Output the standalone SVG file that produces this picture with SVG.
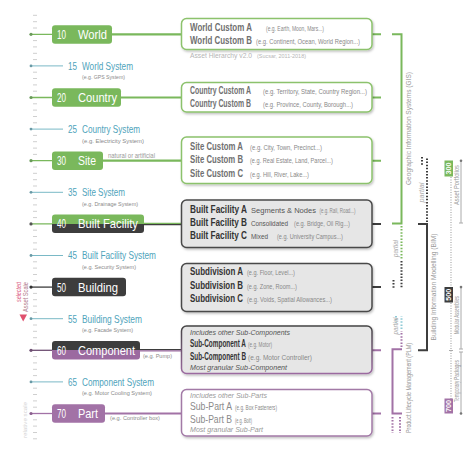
<svg xmlns="http://www.w3.org/2000/svg" width="474" height="451" viewBox="0 0 474 451">
<defs>
<style>
text{font-family:"Liberation Sans",Arial,sans-serif}
.lvl{font-size:12.5px;fill:#fff}
.sys{font-size:11px;fill:#4ea3bb}
.eg{font-size:6.5px;fill:#888;font-weight:normal;font-style:normal}
.sub{font-size:6px;fill:#8a8a8a}
.bx{font-size:11px;fill:#707070;font-weight:bold}
.bxd{font-size:11px;fill:#333;font-weight:bold}
.mid{font-size:8px;fill:#555;font-weight:normal}
.bxp{font-size:11px;fill:#8a8a8a}
.it{font-size:7.5px;font-style:italic;fill:#555}
.itp{font-size:7.5px;font-style:italic;fill:#999}
.vlab{font-size:7.5px;fill:#9a9a9a}
.part{font-size:6.5px;font-style:italic;fill:#aaa}
.rl{font-size:6.5px;fill:#999}
.num{font-size:7px;fill:#fff;font-weight:bold}
.rbox{stroke-width:1.5;filter:url(#sh)}
.gl{stroke:#7ab85c}
.dk{stroke:#3d3d3d}
.pu{stroke:#a272a6}
.te{stroke:#7ab9c6;stroke-width:1}
</style>
<filter id="sh" x="-5%" y="-10%" width="112%" height="130%">
<feDropShadow dx="1" dy="1.5" stdDeviation="1" flood-color="#000" flood-opacity="0.25"/>
</filter>
<linearGradient id="gd" x1="0" y1="0" x2="0" y2="1">
<stop offset="0.5" stop-color="#7ab85c"/><stop offset="0.5" stop-color="#3d3d3d"/>
</linearGradient>
<linearGradient id="dp" x1="0" y1="0" x2="0" y2="1">
<stop offset="0.5" stop-color="#3d3d3d"/><stop offset="0.5" stop-color="#9b6aa0"/>
</linearGradient>
<linearGradient id="dps" x1="0" y1="0" x2="0" y2="1">
<stop offset="0" stop-color="#444"/><stop offset="1" stop-color="#9b6aa0"/>
</linearGradient>
<linearGradient id="bl" x1="0" y1="0" x2="1" y2="0">
<stop offset="0" stop-color="#777"/><stop offset="1" stop-color="#333"/>
</linearGradient>
</defs>
<rect width="474" height="451" fill="#fff"/>

<g id="scale">
<path stroke="#cfcfcf" stroke-width="1" d="M33 15.3h4M33 21.7h4M33 28h4M33 40.6h4M33 46.9h4M33 53.3h4M33 59.6h4M33 72.2h4M33 78.5h4M33 84.9h4M33 91.2h4M33 103.8h4M33 110.1h4M33 116.5h4M33 122.8h4M33 135.4h4M33 141.7h4M33 148.1h4M33 154.4h4M33 167h4M33 173.3h4M33 179.7h4M33 186h4M33 198.6h4M33 204.9h4M33 211.3h4M33 217.6h4M33 230.2h4M33 236.5h4M33 242.9h4M33 249.2h4M33 261.8h4M33 268.1h4M33 274.5h4M33 280.8h4M33 293.4h4M33 299.7h4M33 306.1h4M33 312.4h4M33 325h4M33 331.3h4M33 337.7h4M33 344h4M33 356.6h4M33 362.9h4M33 369.3h4M33 375.6h4M33 388.2h4M33 394.5h4M33 400.9h4M33 407.2h4M33 419.8h4M33 426.1h4M33 432.5h4M33 438.8h4"/>
<text class="rl" transform="translate(27,420) rotate(-90)" text-anchor="middle" style="fill:#d4d4d4;font-size:6px" textLength="36" lengthAdjust="spacingAndGlyphs">relative scale</text>
<text transform="translate(20.5,302) rotate(-90)" style="font-size:6.5px;font-style:italic;fill:#d9557a" textLength="20" lengthAdjust="spacingAndGlyphs">selected</text>
<text transform="translate(28,312) rotate(-90)" style="font-size:6.5px;fill:#b07a8a" textLength="30" lengthAdjust="spacingAndGlyphs">Asset Scale</text>
<path d="M19.5 314.5 L27 314.5 L23.2 321.5 Z" fill="#e0506e"/>
</g>

<g id="connectors" fill="none">
<path class="te" d="M31 65.9H63M31 129.1H63M31 192.3H63M31 255.5H63M31 318.7H63M31 381.9H63"/>
<g fill="#6a9aa6">
<circle cx="31" cy="65.9" r="1.4"/><circle cx="31" cy="129.1" r="1.4"/><circle cx="31" cy="192.3" r="1.4"/><circle cx="31" cy="255.5" r="1.4"/><circle cx="31" cy="318.7" r="1.4"/><circle cx="31" cy="381.9" r="1.4"/>
</g>
<path class="gl" stroke-width="1.3" d="M31 34.3H52M31 97.5H52M31 160.7H52M31 223.9H52"/>
<path class="dk" stroke-width="1.3" d="M31 287.1H52"/>
<path stroke="#6e4f72" stroke-width="1.3" d="M31 350.3H52"/>
<path class="pu" stroke-width="1.3" d="M31 413.5H52"/>
<g>
<circle cx="31" cy="34.3" r="1.6" fill="#6a9a5a"/><circle cx="31" cy="97.5" r="1.6" fill="#6a9a5a"/><circle cx="31" cy="160.7" r="1.6" fill="#6a9a5a"/><circle cx="31" cy="223.9" r="1.6" fill="#555"/><circle cx="31" cy="287.1" r="1.6" fill="#333"/><circle cx="31" cy="350.3" r="1.6" fill="#6e4f72"/><circle cx="31" cy="413.5" r="1.6" fill="#8a5f8e"/>
</g>
<path class="gl" stroke-width="2.2" d="M112 34.3H182M121 97.5H182M103 160.7H182"/>
<path class="gl" stroke-width="1.3" d="M144 223.3H182"/>
<path class="dk" stroke-width="1.3" d="M144 224.6H182"/>
<path stroke="url(#bl)" stroke-width="2.2" d="M126 287.1H182"/>
<path class="dk" stroke-width="1.2" d="M140 349.7H182"/>
<path stroke="#9b6aa0" stroke-width="1.2" d="M140 350.9H182"/>
<path class="pu" stroke-width="2.2" d="M105 413.5H182"/>
<path class="gl" stroke-width="2" d="M372 34.3H381M372 97.5H381M372 160.7H381"/>
<path class="dk" stroke-width="2" d="M372 223.9H381M372 287.1H381"/>
<path class="pu" stroke-width="2" d="M372 350.3H381M372 413.5H381"/>
<path class="gl" stroke-width="2" d="M392 34.3H401.5V223.4H392"/>
<path class="dk" stroke-width="2" d="M418 223.9H427V350.3H418"/>
<path class="pu" stroke-width="2" d="M402 349.3H392.5V413.5H402"/>
<path class="gl" stroke-width="2" stroke-dasharray="1.5 1.6" d="M401.5 226V259"/>
<path class="dk" stroke-width="2" stroke-dasharray="1.5 1.6" d="M401.5 261V288M393.5 280V288"/>
<path class="dk" stroke-width="2" stroke-dasharray="1.5 1.6" d="M427 222V157M422 157V166"/>
<path class="pu" stroke-width="2" stroke-dasharray="1.5 1.6" d="M401.5 347V331"/>
<path stroke="#8fcad6" stroke-width="2" stroke-dasharray="1.5 1.6" d="M401.5 329V316M396 316V323"/>
<path class="pu" stroke-width="2" stroke-dasharray="1.5 1.6" d="M392.5 417V433M400 417V433"/>
<path stroke="#aaa" stroke-width="1.2" stroke-dasharray="1 1.5" d="M451 177V287M451 303V399"/>
<path stroke="#aaa" stroke-width="1" d="M461 160.7V223M461 287.1V349M461 352V413.5M459 349H463M459 352H463M449 350.5H453M459 223H463"/>
<g fill="#777"><circle cx="461" cy="160.7" r="1.3"/><circle cx="461" cy="287.1" r="1.3"/><circle cx="461" cy="413.5" r="1.3"/></g>
</g>

<g id="labels-right">
<text class="vlab" transform="translate(411,128.5) rotate(-90)" text-anchor="middle" textLength="113" lengthAdjust="spacingAndGlyphs">Geographic Information Systems (GIS)</text>
<text class="vlab" transform="translate(436,287) rotate(-90)" text-anchor="middle" textLength="107" lengthAdjust="spacingAndGlyphs">Building Information Modelling (BIM)</text>
<text class="vlab" transform="translate(411,388) rotate(-90)" text-anchor="middle" textLength="90" lengthAdjust="spacingAndGlyphs">Product Lifecycle Management (PLM)</text>
<text class="part" transform="translate(398,248.5) rotate(-90)" text-anchor="middle" textLength="17" lengthAdjust="spacingAndGlyphs">partial</text>
<text class="part" transform="translate(424,192.5) rotate(-90)" text-anchor="middle" textLength="20" lengthAdjust="spacingAndGlyphs">partial</text>
<text class="part" transform="translate(398,326) rotate(-90)" text-anchor="middle" textLength="17" lengthAdjust="spacingAndGlyphs">partial</text>
<text class="rl" transform="translate(459,185) rotate(-90)" text-anchor="middle" textLength="40" lengthAdjust="spacingAndGlyphs">Asset Portfolios</text>
<text class="rl" transform="translate(459,315) rotate(-90)" text-anchor="middle" textLength="38" lengthAdjust="spacingAndGlyphs">Modular Assemblies</text>
<text class="rl" transform="translate(459,381) rotate(-90)" text-anchor="middle" textLength="42" lengthAdjust="spacingAndGlyphs">Temporary Packages</text>
<g id="n300"><rect x="444.5" y="160.5" width="8.5" height="16" fill="#7ab85c"/><text class="num" transform="translate(451.3,168.5) rotate(-90)" text-anchor="middle" textLength="12" lengthAdjust="spacingAndGlyphs">300</text></g>
<g id="n500"><rect x="444.5" y="287" width="8.5" height="15.5" fill="#3d3d3d"/><text class="num" transform="translate(451.3,294.8) rotate(-90)" text-anchor="middle" textLength="12" lengthAdjust="spacingAndGlyphs">500</text></g>
<g id="n700"><rect x="444.5" y="398.5" width="8.5" height="15" fill="#a272a6"/><text class="num" transform="translate(451.3,406) rotate(-90)" text-anchor="middle" textLength="12" lengthAdjust="spacingAndGlyphs">700</text></g>
</g>

<g id="lvl10"><rect x="52" y="25.3" width="60" height="18.5" rx="3" fill="#7ab85c"/><g transform="translate(57,0) scale(0.8,1)"><text class="lvl" y="39"><tspan x="0" textLength="11.25" lengthAdjust="spacingAndGlyphs">10</tspan><tspan x="26.25" textLength="36.25" lengthAdjust="spacingAndGlyphs">World</tspan></text></g></g>
<g id="lvl15"><g transform="translate(68,0) scale(0.8,1)"><text class="sys" y="70"><tspan x="0" textLength="11.25" lengthAdjust="spacingAndGlyphs">15</tspan><tspan x="17.5" textLength="63.75" lengthAdjust="spacingAndGlyphs">World System</tspan></text><text class="sub" x="17.5" y="79.5" textLength="53.75" lengthAdjust="spacingAndGlyphs">(e.g. GPS System)</text></g></g>
<g id="lvl20"><rect x="52" y="88.3" width="69" height="18.5" rx="3" fill="#7ab85c"/><g transform="translate(57,0) scale(0.8,1)"><text class="lvl" y="102"><tspan x="0" textLength="11.25" lengthAdjust="spacingAndGlyphs">20</tspan><tspan x="26.25" textLength="48.75" lengthAdjust="spacingAndGlyphs">Country</tspan></text></g></g>
<g id="lvl25"><g transform="translate(68,0) scale(0.8,1)"><text class="sys" y="133.1"><tspan x="0" textLength="11.25" lengthAdjust="spacingAndGlyphs">25</tspan><tspan x="17.5" textLength="72.5" lengthAdjust="spacingAndGlyphs">Country System</tspan></text><text class="sub" x="17.5" y="142.6" textLength="77.5" lengthAdjust="spacingAndGlyphs">(e.g. Electricity System)</text></g></g>
<g id="lvl30"><rect x="52" y="151.5" width="51" height="18.5" rx="3" fill="#7ab85c"/><g transform="translate(57,0) scale(0.8,1)"><text class="lvl" y="165.2"><tspan x="0" textLength="11.25" lengthAdjust="spacingAndGlyphs">30</tspan><tspan x="26.25" textLength="22.5" lengthAdjust="spacingAndGlyphs">Site</tspan></text></g><text class="eg" x="108" y="157.8" style="fill:#999" textLength="47" lengthAdjust="spacingAndGlyphs">natural or artificial</text></g>
<g id="lvl35"><g transform="translate(68,0) scale(0.8,1)"><text class="sys" y="196.3"><tspan x="0" textLength="11.25" lengthAdjust="spacingAndGlyphs">35</tspan><tspan x="17.5" textLength="53.75" lengthAdjust="spacingAndGlyphs">Site System</tspan></text><text class="sub" x="17.5" y="205.8" textLength="70" lengthAdjust="spacingAndGlyphs">(e.g. Drainage System)</text></g></g>
<g id="lvl40"><rect x="52" y="214.6" width="92" height="18.5" rx="3" fill="url(#gd)"/><g transform="translate(57,0) scale(0.8,1)"><text class="lvl" y="228.4"><tspan x="0" textLength="11.25" lengthAdjust="spacingAndGlyphs">40</tspan><tspan x="26.25" textLength="75" lengthAdjust="spacingAndGlyphs">Built Facility</tspan></text></g></g>
<g id="lvl45"><g transform="translate(68,0) scale(0.8,1)"><text class="sys" y="259.5"><tspan x="0" textLength="11.25" lengthAdjust="spacingAndGlyphs">45</tspan><tspan x="17.5" textLength="92.5" lengthAdjust="spacingAndGlyphs">Built Facility System</tspan></text><text class="sub" x="17.5" y="269" textLength="67.5" lengthAdjust="spacingAndGlyphs">(e.g. Security System)</text></g></g>
<g id="lvl50"><rect x="52" y="277.8" width="74" height="18.5" rx="3" fill="#3d3d3d"/><g transform="translate(57,0) scale(0.8,1)"><text class="lvl" y="291.6"><tspan x="0" textLength="11.25" lengthAdjust="spacingAndGlyphs">50</tspan><tspan x="26.25" textLength="50" lengthAdjust="spacingAndGlyphs">Building</tspan></text></g></g>
<g id="lvl55"><g transform="translate(68,0) scale(0.8,1)"><text class="sys" y="322.7"><tspan x="0" textLength="11.25" lengthAdjust="spacingAndGlyphs">55</tspan><tspan x="17.5" textLength="75" lengthAdjust="spacingAndGlyphs">Building System</tspan></text><text class="sub" x="17.5" y="332.2" textLength="63.75" lengthAdjust="spacingAndGlyphs">(e.g. Facade System)</text></g></g>
<g id="lvl60"><rect x="52" y="341" width="88" height="18.5" rx="3" fill="url(#dp)"/><g transform="translate(57,0) scale(0.8,1)"><text class="lvl" y="354.8"><tspan x="0" textLength="11.25" lengthAdjust="spacingAndGlyphs">60</tspan><tspan x="26.25" textLength="71.25" lengthAdjust="spacingAndGlyphs">Component</tspan></text></g><text class="sub" x="143" y="357.5" textLength="29" lengthAdjust="spacingAndGlyphs">(e.g. Pump)</text></g>
<g id="lvl65"><g transform="translate(68,0) scale(0.8,1)"><text class="sys" y="385.9"><tspan x="0" textLength="11.25" lengthAdjust="spacingAndGlyphs">65</tspan><tspan x="17.5" textLength="90" lengthAdjust="spacingAndGlyphs">Component System</tspan></text><text class="sub" x="17.5" y="395.4" textLength="87.5" lengthAdjust="spacingAndGlyphs">(e.g. Motor Cooling System)</text></g></g>
<g id="lvl70"><rect x="52" y="404.2" width="53" height="18.5" rx="3" fill="#a272a6"/><g transform="translate(57,0) scale(0.8,1)"><text class="lvl" y="418"><tspan x="0" textLength="11.25" lengthAdjust="spacingAndGlyphs">70</tspan><tspan x="26.25" textLength="25" lengthAdjust="spacingAndGlyphs">Part</tspan></text></g><text class="sub" x="110" y="420" textLength="50" lengthAdjust="spacingAndGlyphs">(e.g. Controller box)</text></g>

<g id="box-world"><rect class="rbox" x="181.5" y="18.5" width="190.5" height="31" rx="5" fill="#fff" stroke="#8cc26c"/>
<g transform="translate(190,0) scale(0.5,1)">
<text class="bx" y="31.5"><tspan x="0" textLength="124" lengthAdjust="spacingAndGlyphs">World Custom A</tspan><tspan class="eg" x="152" textLength="116" lengthAdjust="spacingAndGlyphs">(e.g. Earth, Moon, Mars...)</tspan></text>
<text class="bx" y="44"><tspan x="0" textLength="124" lengthAdjust="spacingAndGlyphs">World Custom B</tspan><tspan class="eg" x="132" textLength="208" lengthAdjust="spacingAndGlyphs">(e.g. Continent, Ocean, World Region...)</tspan></text>
</g></g>
<g id="caption"><g transform="translate(190,0) scale(0.5,1)"><text y="58" style="fill:#b5b5b5"><tspan x="0" style="font-size:7.5px" textLength="124" lengthAdjust="spacingAndGlyphs">Asset Hierarchy v2.0</tspan><tspan x="134" style="font-size:6px" textLength="98" lengthAdjust="spacingAndGlyphs">(Sucsar, 2011-2018)</tspan></text></g></g>
<g id="box-country"><rect class="rbox" x="181.5" y="82.5" width="190.5" height="29.5" rx="5" fill="#fff" stroke="#8cc26c"/>
<g transform="translate(190,0) scale(0.5,1)">
<text class="bx" y="94.5"><tspan x="0" textLength="122" lengthAdjust="spacingAndGlyphs">Country Custom A</tspan><tspan class="eg" x="146" textLength="208" lengthAdjust="spacingAndGlyphs">(e.g. Territory, State, Country Region...)</tspan></text>
<text class="bx" y="107"><tspan x="0" textLength="122" lengthAdjust="spacingAndGlyphs">Country Custom B</tspan><tspan class="eg" x="146" textLength="180" lengthAdjust="spacingAndGlyphs">(e.g. Province, County, Borough...)</tspan></text>
</g></g>
<g id="box-site"><rect class="rbox" x="181.5" y="137" width="190.5" height="46.5" rx="5" fill="#fff" stroke="#8cc26c"/>
<g transform="translate(190,0) scale(0.5,1)">
<text class="bx" y="150"><tspan x="0" textLength="106" lengthAdjust="spacingAndGlyphs">Site Custom A</tspan><tspan class="eg" x="120" textLength="144" lengthAdjust="spacingAndGlyphs">(e.g. City, Town, Precinct...)</tspan></text>
<text class="bx" y="163.5"><tspan x="0" textLength="106" lengthAdjust="spacingAndGlyphs">Site Custom B</tspan><tspan class="eg" x="120" textLength="166" lengthAdjust="spacingAndGlyphs">(e.g. Real Estate, Land, Parcel...)</tspan></text>
<text class="bx" y="177"><tspan x="0" textLength="106" lengthAdjust="spacingAndGlyphs">Site Custom C</tspan><tspan class="eg" x="120" textLength="118" lengthAdjust="spacingAndGlyphs">(e.g. Hill, River, Lake...)</tspan></text>
</g></g>
<g id="box-facility"><rect class="rbox" x="181.5" y="200" width="190.5" height="47.5" rx="5" fill="#e6e6e6" stroke="#4a4a4a"/>
<g transform="translate(190,0) scale(0.5,1)">
<text class="bxd" y="212.7"><tspan x="0" textLength="114" lengthAdjust="spacingAndGlyphs">Built Facility A</tspan><tspan class="mid" x="122" textLength="130" lengthAdjust="spacingAndGlyphs">Segments &amp; Nodes</tspan><tspan class="eg" x="259" textLength="72" lengthAdjust="spacingAndGlyphs">(e.g. Rail, Road...)</tspan></text>
<text class="bxd" y="226.3"><tspan x="0" textLength="114" lengthAdjust="spacingAndGlyphs">Built Facility B</tspan><tspan class="mid" x="122" textLength="74" lengthAdjust="spacingAndGlyphs">Consolidated</tspan><tspan class="eg" x="208" textLength="112" lengthAdjust="spacingAndGlyphs">(e.g. Bridge, Oil Rig...)</tspan></text>
<text class="bxd" y="239.5"><tspan x="0" textLength="114" lengthAdjust="spacingAndGlyphs">Built Facility C</tspan><tspan class="mid" x="122" textLength="34" lengthAdjust="spacingAndGlyphs">Mixed</tspan><tspan class="eg" x="174" textLength="132" lengthAdjust="spacingAndGlyphs">(e.g. University Campus...)</tspan></text>
</g></g>
<g id="box-subdivision"><rect class="rbox" x="181.5" y="263.5" width="190.5" height="48" rx="5" fill="#e6e6e6" stroke="#4a4a4a"/>
<g transform="translate(190,0) scale(0.5,1)">
<text class="bxd" y="275.5"><tspan x="0" textLength="106" lengthAdjust="spacingAndGlyphs">Subdivision A</tspan><tspan class="eg" x="114" textLength="96" lengthAdjust="spacingAndGlyphs">(e.g. Floor, Level...)</tspan></text>
<text class="bxd" y="288.6"><tspan x="0" textLength="106" lengthAdjust="spacingAndGlyphs">Subdivision B</tspan><tspan class="eg" x="114" textLength="100" lengthAdjust="spacingAndGlyphs">(e.g. Zone, Room...)</tspan></text>
<text class="bxd" y="301.7"><tspan x="0" textLength="106" lengthAdjust="spacingAndGlyphs">Subdivision C</tspan><tspan class="eg" x="114" textLength="170" lengthAdjust="spacingAndGlyphs">(e.g. Voids, Spatial Allowances...)</tspan></text>
</g></g>
<g id="box-subcomponent"><rect class="rbox" x="181.5" y="326" width="190.5" height="47.5" rx="5" fill="#e6e6e6" stroke="url(#dps)"/>
<g transform="translate(190,0) scale(0.5,1)">
<text class="it" x="0" y="335" textLength="200" lengthAdjust="spacingAndGlyphs">Includes other Sub-Components</text>
<text class="bxd" y="347.3"><tspan x="0" textLength="112" lengthAdjust="spacingAndGlyphs">Sub-Component A</tspan><tspan class="eg" x="116" textLength="48" lengthAdjust="spacingAndGlyphs">(e.g. Motor)</tspan></text>
<text class="bxd" y="359.7"><tspan x="0" textLength="112" lengthAdjust="spacingAndGlyphs">Sub-Component B</tspan><tspan class="eg" x="116" textLength="128" lengthAdjust="spacingAndGlyphs">(e.g. Motor Controller)</tspan></text>
<text class="it" x="0" y="370" textLength="194" lengthAdjust="spacingAndGlyphs">Most granular Sub-Component</text>
</g></g>
<g id="box-subpart"><rect class="rbox" x="181.5" y="389.5" width="190.5" height="46.5" rx="5" fill="#fff" stroke="#a27aa6"/>
<g transform="translate(190,0) scale(0.5,1)">
<text class="itp" x="0" y="398.5" textLength="154" lengthAdjust="spacingAndGlyphs">Includes other Sub-Parts</text>
<text class="bxp" y="410.3"><tspan x="0" textLength="84" lengthAdjust="spacingAndGlyphs">Sub-Part A</tspan><tspan class="eg" x="90" textLength="84" lengthAdjust="spacingAndGlyphs">(e.g. Box Fasteners)</tspan></text>
<text class="bxp" y="422.7"><tspan x="0" textLength="84" lengthAdjust="spacingAndGlyphs">Sub-Part B</tspan><tspan class="eg" x="90" textLength="34" lengthAdjust="spacingAndGlyphs">(e.g. Bolt)</tspan></text>
<text class="itp" x="0" y="432.5" textLength="146" lengthAdjust="spacingAndGlyphs">Most granular Sub-Part</text>
</g></g>
</svg>
